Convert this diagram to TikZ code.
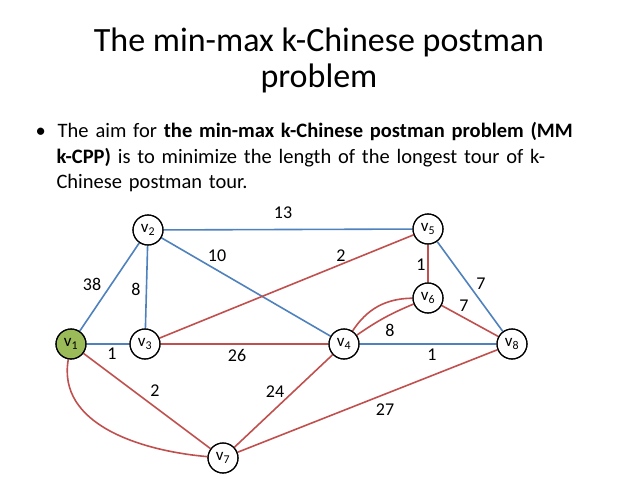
\documentclass[tikz,border=0pt]{standalone}
\usepackage{fontspec}
\setmainfont{Carlito}
\definecolor{blueedge}{HTML}{4F81BD}
\definecolor{rededge}{HTML}{C0504D}
\definecolor{startfill}{HTML}{9BBB59}
\tikzset{
  vert/.style={circle,draw=black,line width=1.1pt,fill=white,minimum size=30pt,inner sep=0pt,font=\fontsize{17}{17}\selectfont},
  tour/.style={draw=blueedge,line width=1.6pt},
  extra/.style={draw=rededge,line width=1.6pt},
  wlabel/.style={font=\fontsize{18}{18}\selectfont}
}
\newcommand{\vx}[1]{v\textsubscript{#1}}
\begin{document}
\begin{tikzpicture}[x=1pt,y=-1pt]
    \useasboundingbox (0,0) rectangle (638,479);
    \node[font=\fontsize{34}{36}\selectfont,align=center] (title) at (319,60) {The min-max k-Chinese postman\\problem};
    \node[font=\fontsize{20.5}{25.5}\selectfont,align=left,text width=600pt,anchor=north west] (aim) at (32,119)
      {\textbullet\hspace{12pt}The aim for \textbf{the min-max k-Chinese postman problem (MM}\\
       \hspace*{21pt}\textbf{k-CPP)} is to minimize the length of the longest tour of k-\\
       \hspace*{21pt}Chinese postman tour.};

    % vertices
    \node[vert,fill=startfill] (v1) at (71,344) {\vx{1}};
    \node[vert] (v2) at (148,230) {\vx{2}};
    \node[vert] (v3) at (145,344) {\vx{3}};
    \node[vert] (v4) at (344,344) {\vx{4}};
    \node[vert] (v5) at (428,229) {\vx{5}};
    \node[vert] (v6) at (428,298) {\vx{6}};
    \node[vert] (v7) at (223,458) {\vx{7}};
    \node[vert] (v8) at (512,344) {\vx{8}};

    % edges
    \draw[tour] (v1) -- (v2);
    \draw[tour] (v1) -- (v3);
    \draw[tour] (v2) -- (v3);
    \draw[tour] (v2) -- (v5);
    \draw[tour] (v2) -- (v4);
    \draw[tour] (v5) -- (v8);
    \draw[tour] (v4) -- (v8);
    \draw[extra] (v3) -- (v5);
    \draw[extra] (v3) -- (v4);
    \draw[extra] (v5) -- (v6);
    \draw[extra] (v6) -- (v8);
    \draw[extra] (v4) to[bend left=28] (v6);
    \draw[extra] (v4) to[bend left=6] (v6);
    \draw[extra] (v1) -- (v7);
    \draw[extra] (v1) to[out=-100,in=175] (v7);
    \draw[extra] (v7) -- (v4);
    \draw[extra] (v7) -- (v8);
    \foreach \n in {v1,v2,v3,v4,v5,v6,v7,v8}
        \node[vert,fill=none,text opacity=0] at (\n) {};

    % weights
    \node[wlabel] (w25) at (283,213) {13};
    \node[wlabel] (w24) at (217,256) {10};
    \node[wlabel] (w35) at (341,256) {2};
    \node[wlabel] (w56) at (421,265) {1};
    \node[wlabel] (w12) at (92,284) {38};
    \node[wlabel] (w23) at (136,289) {8};
    \node[wlabel] (w58) at (481,284) {7};
    \node[wlabel] (w68) at (464,306) {7};
    \node[wlabel] (w46) at (390,330) {8};
    \node[wlabel] (w13) at (112,354) {1};
    \node[wlabel] (w34) at (237,355) {26};
    \node[wlabel] (w48) at (432,355) {1};
    \node[wlabel] (w17) at (155,391) {2};
    \node[wlabel] (w47) at (275,392) {24};
    \node[wlabel] (w78) at (385,410) {27};
\end{tikzpicture}
\end{document}
